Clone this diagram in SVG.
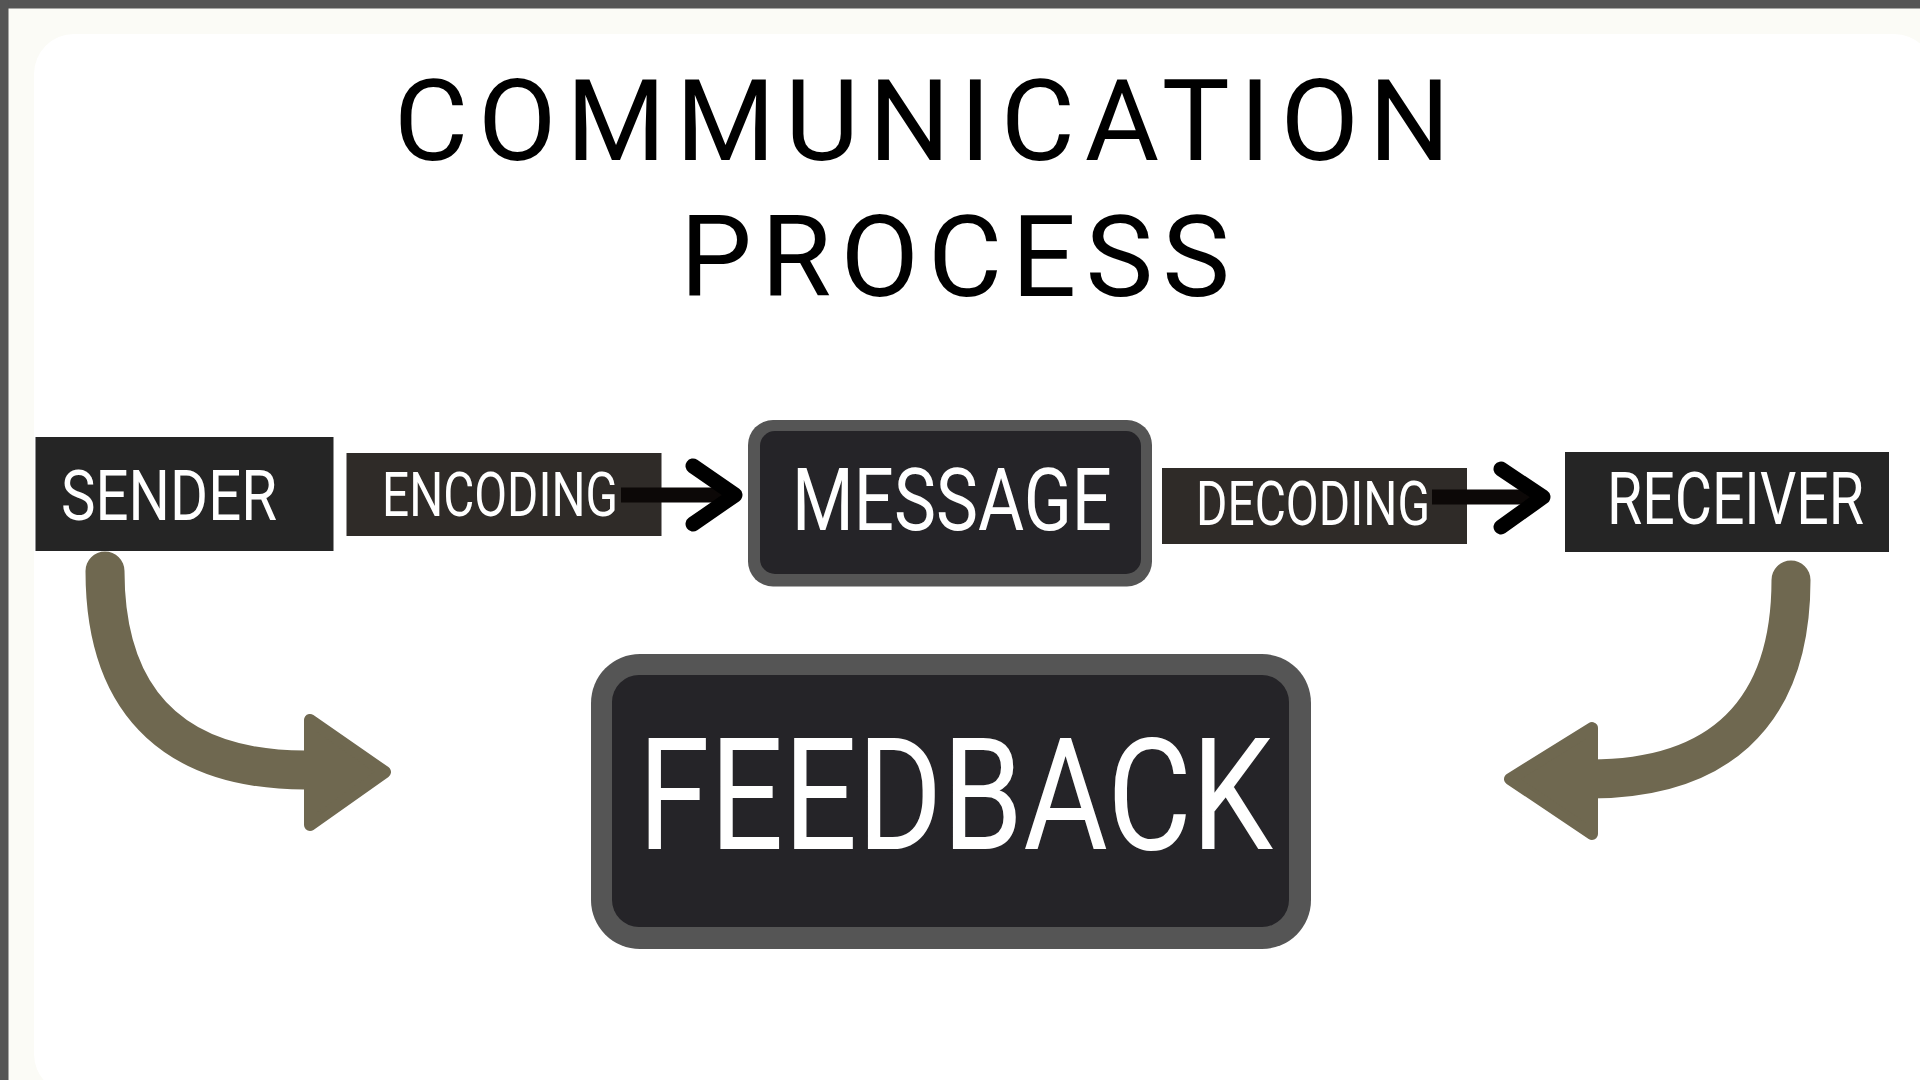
<svg xmlns="http://www.w3.org/2000/svg" width="1920" height="1080" viewBox="0 0 1920 1080">
<defs>
<style>
.lbl{font-family:Roboto,"DejaVu Sans",sans-serif;fill:#ffffff;font-weight:400}
.ttl{font-family:Roboto,"DejaVu Sans",sans-serif;fill:#000000;font-weight:400}
.sq{fill:#252525}
.tag{fill:#2f2b28}
.frame{fill:#555555}
.inner{fill:#252428}
.curve{fill:none;stroke:#6f6850;stroke-width:39;stroke-linecap:round}
.head{fill:#6f6850;stroke:#6f6850;stroke-width:12;stroke-linejoin:round}
.shaft{stroke:#0c0807;stroke-width:15;stroke-linecap:butt;fill:none}
.chev{stroke:#000000;stroke-width:15;stroke-linecap:round;stroke-linejoin:round;fill:none}
</style>
</defs>
<rect x="0" y="0" width="1920" height="1080" fill="#fbfbf6"/>
<rect x="34" y="34" width="1900" height="1060" rx="40" fill="#ffffff"/>
<rect x="0" y="0" width="1920" height="8.5" fill="#555555"/>
<rect x="0" y="0" width="8.5" height="1080" fill="#555555"/>

<g id="title">
<text class="ttl" x="394" y="160" font-size="114" textLength="1056" lengthAdjust="spacing">COMMUNICATION</text>
<text class="ttl" x="680" y="296" font-size="114" textLength="550" lengthAdjust="spacing">PROCESS</text>
</g>

<g id="sender">
<rect class="sq" x="35.5" y="437" width="298" height="114"/>
<text class="lbl" x="61" y="520" font-size="70" textLength="216" lengthAdjust="spacingAndGlyphs">SENDER</text>
</g>

<g id="encoding">
<rect class="tag" x="346.5" y="453" width="315" height="83"/>
<text class="lbl" x="382" y="515.5" font-size="62" textLength="236" lengthAdjust="spacingAndGlyphs">ENCODING</text>
</g>

<g id="message">
<rect class="frame" x="748" y="420" width="404" height="166.5" rx="25"/>
<rect class="inner" x="760" y="431" width="381" height="143" rx="15"/>
<text class="lbl" x="792" y="530" font-size="88" textLength="320" lengthAdjust="spacingAndGlyphs">MESSAGE</text>
</g>

<g id="decoding">
<rect class="tag" x="1162" y="468" width="305" height="76"/>
<text class="lbl" x="1196" y="525" font-size="62" textLength="234" lengthAdjust="spacingAndGlyphs">DECODING</text>
</g>

<g id="receiver">
<rect class="sq" x="1565" y="452" width="324" height="100"/>
<text class="lbl" x="1607" y="524" font-size="72" textLength="257" lengthAdjust="spacingAndGlyphs">RECEIVER</text>
</g>

<g id="feedback">
<rect class="frame" x="591" y="654" width="720" height="295" rx="49"/>
<rect class="inner" x="612" y="675" width="677" height="252" rx="27"/>
<text class="lbl" x="638" y="848.5" font-size="155" textLength="635" lengthAdjust="spacingAndGlyphs">FEEDBACK</text>
</g>

<g id="connectors">
<line class="shaft" x1="621" y1="495" x2="730" y2="495"/>
<polyline class="chev" points="693,466 735,495 693,524"/>
<line class="shaft" x1="1432" y1="497" x2="1540" y2="497"/>
<polyline class="chev" points="1501,469 1543,497 1501,527"/>
<path class="curve" d="M105,571 C105,712 184,770 305,770"/>
<polygon class="head" points="310,720 310,825 385,772"/>
<path class="curve" d="M1791,580 C1791,722 1710,779 1590,779"/>
<polygon class="head" points="1592,728 1592,834 1510,779"/>
</g>
</svg>
